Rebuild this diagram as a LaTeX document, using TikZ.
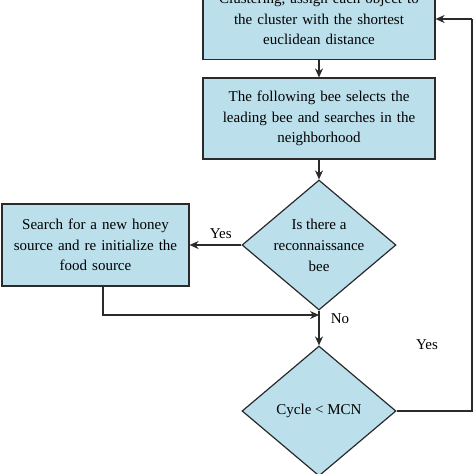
\documentclass[tikz,border=0pt]{standalone}
\usepackage{fontspec}
\setmainfont{Liberation Serif}
\usetikzlibrary{arrows.meta,shapes.geometric,calc}
\definecolor{boxfill}{HTML}{BCDFEC}
\definecolor{linec}{HTML}{2A2A2A}
\tikzset{
  proc/.style={draw=linec, fill=boxfill, line width=1.2pt, minimum height=81pt, align=center, inner sep=0pt, font=\fontsize{15}{20.5}\selectfont},
  decide/.style={diamond, draw=linec, fill=boxfill, line width=1.2pt, minimum width=154pt, minimum height=130pt, inner sep=-14pt, align=center, font=\fontsize{15}{21}\selectfont},
  conn/.style={draw=linec, line width=1.2pt, -{Stealth[length=9pt,width=8pt]}},
  plain/.style={draw=linec, line width=1.2pt},
  lbl/.style={font=\fontsize{15}{17}\selectfont, inner sep=0pt}
}
\begin{document}
\begin{tikzpicture}[x=1pt,y=1pt]
\clip (0,0) rectangle (474,-474);
\useasboundingbox (0,0) rectangle (474,-474);
\fill[white] (0,0) rectangle (474,-474);
\node[proc, minimum width=232pt, text width=228pt] (cluster) at (319,-19) {Clustering, assign each object to\\the cluster with the shortest\\euclidean distance};
\node[proc, minimum width=232pt, text width=228pt] (follow) at (319,-118.5) {The following bee selects the\\leading bee and searches in the\\neighborhood};
\node[decide] (recon) at (319,-245) {Is there a\\reconnaissance\\bee};
\node[proc, minimum width=187pt, text width=183pt, minimum height=82pt] (search) at (95.5,-245) {Search for a new honey\\source and re initialize the\\food source};
\node[decide] (cycle) at (319,-411) {Cycle < MCN};
\coordinate (merge) at (319,-315);
\coordinate (rc) at (472,-411);
\coordinate (rt) at (472,-19);
\draw[conn] (cluster) -- (follow);
\draw[conn] (follow) -- (recon);
\draw[conn] (recon.west) -- node[lbl, above=6pt, pos=0.4] (yes1) {Yes} (search.east);
\draw[conn] ($(search.south)+(7.5,0)$) |- (merge);
\draw[conn] (recon.south) -- (cycle.north);
\node[lbl] (no) at (340,-319) {No};
\draw[plain] (cycle.east) -- (rc) -- (rt);
\draw[conn] (rt) -- (cluster.east);
\node[lbl] (yes2) at (427,-345) {Yes};
\end{tikzpicture}
\end{document}
